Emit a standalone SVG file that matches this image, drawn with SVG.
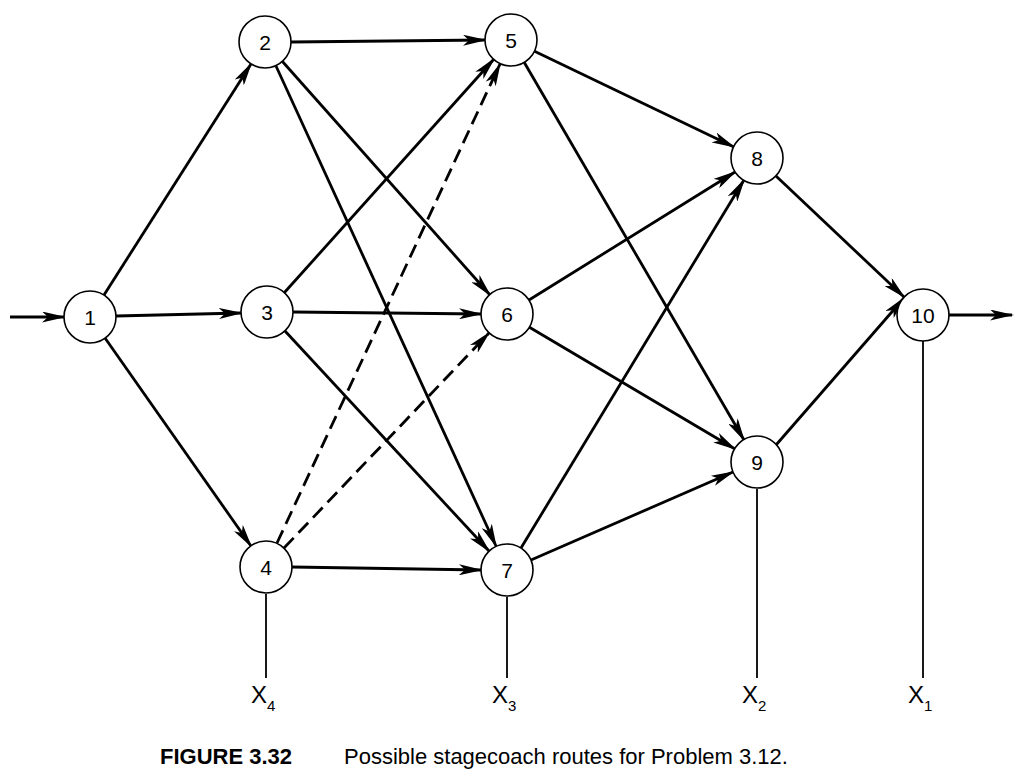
<svg xmlns="http://www.w3.org/2000/svg" width="1024" height="781" viewBox="0 0 1024 781">
<style>
.e{stroke:#000;stroke-width:2.8;fill:none;marker-end:url(#a)}
.d{stroke-dasharray:14 7}
.n circle{fill:#fff;stroke:#000;stroke-width:1.6}
.n text{font-family:"Liberation Sans",Arial,sans-serif;font-size:21px;text-anchor:middle}
.v{stroke:#000;stroke-width:1.8}
.x{font-family:"Liberation Sans",Arial,sans-serif;font-size:24px}
.x tspan{font-size:15px}
</style>
<defs>
<marker id="a" viewBox="0 0 24 11" refX="22" refY="5.5" markerWidth="24" markerHeight="11" markerUnits="userSpaceOnUse" orient="auto">
<path d="M0,0 L24,5.5 L0,11 L6,5.5 Z" fill="#000"/>
</marker>
</defs>
<rect width="1024" height="781" fill="#fff"/>
<g id="connectors">
<line class="e" x1="10" y1="317" x2="64" y2="317"/>
<line class="e" x1="104" y1="295" x2="251" y2="64"/>
<line class="e" x1="116" y1="316" x2="241" y2="313"/>
<line class="e" x1="105" y1="338" x2="251" y2="546"/>
<line class="e" x1="291" y1="42" x2="485" y2="40"/>
<line class="e" x1="282" y1="61" x2="490" y2="295"/>
<line class="e" x1="276" y1="66" x2="496" y2="546"/>
<line class="e" x1="284" y1="293" x2="494" y2="59"/>
<line class="e" x1="293" y1="312" x2="481" y2="314"/>
<line class="e" x1="285" y1="331" x2="489" y2="551"/>
<line class="e d" x1="277" y1="543" x2="500" y2="64"/>
<line class="e d" x1="284" y1="548" x2="489" y2="333"/>
<line class="e" x1="292" y1="567" x2="481" y2="570"/>
<line class="e" x1="534" y1="51" x2="734" y2="147"/>
<line class="e" x1="524" y1="62" x2="744" y2="440"/>
<line class="e" x1="529" y1="300" x2="735" y2="172"/>
<line class="e" x1="529" y1="327" x2="735" y2="449"/>
<line class="e" x1="521" y1="548" x2="744" y2="180"/>
<line class="e" x1="531" y1="560" x2="733" y2="472"/>
<line class="e" x1="776" y1="176" x2="904" y2="297"/>
<line class="e" x1="776" y1="445" x2="904" y2="298"/>
<line class="e" x1="949" y1="315" x2="1012" y2="315"/>
<line class="v" x1="266" y1="594" x2="266" y2="678"/>
<line class="v" x1="507" y1="597" x2="507" y2="678"/>
<line class="v" x1="757" y1="489" x2="757" y2="678"/>
<line class="v" x1="923" y1="341" x2="923" y2="678"/>
</g>
<g id="n1" class="n"><circle cx="90" cy="317" r="26"/><text x="90" y="325">1</text></g>
<g id="n2" class="n"><circle cx="265" cy="42" r="26"/><text x="265" y="50">2</text></g>
<g id="n3" class="n"><circle cx="267" cy="312" r="26"/><text x="267" y="320">3</text></g>
<g id="n4" class="n"><circle cx="266" cy="567" r="26"/><text x="266" y="575">4</text></g>
<g id="n5" class="n"><circle cx="511" cy="40" r="26"/><text x="511" y="48">5</text></g>
<g id="n6" class="n"><circle cx="507" cy="314" r="26"/><text x="507" y="322">6</text></g>
<g id="n7" class="n"><circle cx="507" cy="570" r="26"/><text x="507" y="578">7</text></g>
<g id="n8" class="n"><circle cx="757" cy="158" r="26"/><text x="757" y="166">8</text></g>
<g id="n9" class="n"><circle cx="757" cy="462" r="26"/><text x="757" y="470">9</text></g>
<g id="n10" class="n"><circle cx="923" cy="315" r="26"/><text x="923" y="323">10</text></g>
<g id="labels">
<text class="x" x="251" y="703">X<tspan dy="8">4</tspan></text>
<text class="x" x="492" y="703">X<tspan dy="8">3</tspan></text>
<text class="x" x="742" y="703">X<tspan dy="8">2</tspan></text>
<text class="x" x="908" y="703">X<tspan dy="8">1</tspan></text>
<text x="160" y="764" font-family="Liberation Sans,Arial,sans-serif" font-size="22" font-weight="bold">FIGURE 3.32</text>
<text x="344" y="764" font-family="Liberation Sans,Arial,sans-serif" font-size="22">Possible stagecoach routes for Problem 3.12.</text>
</g>
</svg>
